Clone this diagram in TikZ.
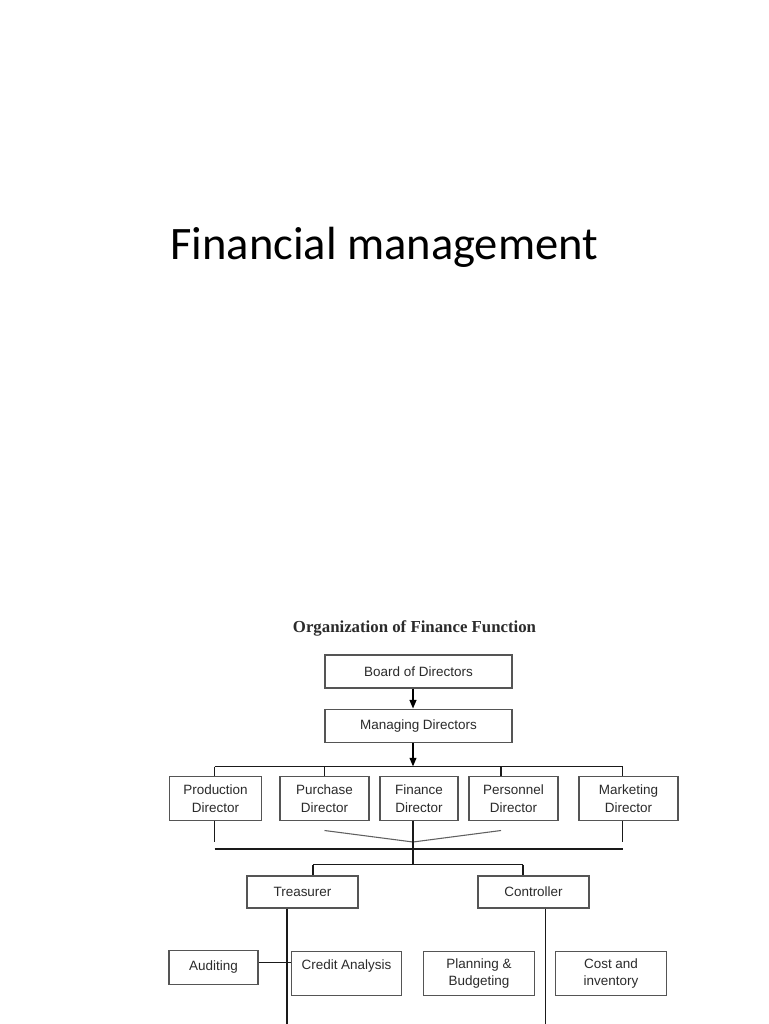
\documentclass[tikz,border=0pt]{standalone}
\usepackage{fontspec}
\setmainfont{Liberation Sans}
\newfontfamily\slidefont{Carlito}
\newfontfamily\headfont{Liberation Serif}
\usepackage{tikz}
\usetikzlibrary{positioning,arrows.meta}

\definecolor{boxline}{HTML}{555555}
\definecolor{boxtext}{HTML}{2B2B2B}
\definecolor{wire}{HTML}{1A1A1A}
\definecolor{vline}{HTML}{606060}

\tikzset{
    unit/.style 2 args={minimum width=#1*0.75pt, minimum height=#2*0.75pt},
    post/.style={draw=boxline, line width=0.9pt, text=boxtext, inner sep=0pt,
        align=center, font=\fontsize{10.1}{13.4}\selectfont},
    wire/.style={draw=wire, line width=0.8pt},
    feed/.style={draw=black, line width=1.4pt, -{Triangle[length=6.5pt,width=5pt]}},
}

\begin{document}
\begin{tikzpicture}[x=0.75pt,y=-0.75pt]
    \useasboundingbox[fill=white] (0,0) rectangle (768,1024);

    \node[anchor=base west, inner sep=0pt, font=\slidefont\fontsize{34.9}{40}\selectfont] (title) at (170,259) {Financial management};
    \node[anchor=base, inner sep=0pt, text=boxtext, font=\headfont\bfseries\fontsize{12.6}{15}\selectfont] (orgtitle) at (414.5,632.3) {Organization of Finance Function};

    \node[post, unit={187}{33}] (board) at (418.5,671.5) {Board of Directors};
    \node[post, unit={187}{33.5}] (md) at (418.5,726) {Managing Directors};

    \node[post, unit={92}{43.5}] (prod) at (215.5,798.5) {Production\\Director};
    \node[post, unit={89}{43.5}] (pur) at (324.5,798.5) {Purchase\\Director};
    \node[post, unit={78}{43.5}] (fin) at (419,798.5) {Finance\\Director};
    \node[post, unit={89}{43.5}] (per) at (513.5,798.5) {Personnel\\Director};
    \node[post, unit={99}{43.5}] (mkt) at (628.5,798.5) {Marketing\\Director};

    \node[post, unit={111}{32}] (tre) at (302.5,892) {Treasurer};
    \node[post, unit={111}{32}] (con) at (533.5,892) {Controller};

    \node[post, unit={89}{33.5}] (aud) at (213.5,967.5) {Auditing};
    \node[post, unit={110}{44.5}] (cred) at (346.5,973.5) {Credit Analysis\\\mbox{}};
    \node[post, unit={111}{44.5}] (plan) at (479,973.5) {Planning \&\\Budgeting};
    \node[post, unit={110.5}{44.5}] (cost) at (611,973.5) {Cost and\\inventory};

    % top of the chart
    \coordinate (bus) at (413,766.5);
    \coordinate (busl) at (214.5,766.5);
    \coordinate (busr) at (622.5,766.5);
    \coordinate (pertap) at (501,766.5);
    \draw[feed] (board.south -| bus) -- (md.north -| bus);
    \draw[feed] (md.south -| bus) -- (bus);
    \draw[wire] (busl) -- (busr);
    \draw[wire] (busl) -- (busl |- prod.north);
    \draw[wire] (pur.north |- bus) -- (pur.north);
    \draw[wire] (pertap) -- (pertap |- per.north);
    \draw[wire] (busr) -- (busr |- mkt.north);

    % directors merge into finance
    \coordinate (fork) at (413,849);
    \coordinate (vtip) at (413,842);
    \coordinate (bar) at (413,864.5);
    \draw[wire] (busl |- fork) -- (busr |- fork);
    \draw[wire] (busl |- prod.south) -- (214.5,841.5);
    \draw[wire] (busr |- mkt.south) -- (622.5,841.5);
    \draw[draw=vline, line width=0.8pt] (324.5,830.5) -- (vtip) -- (501,830.5);
    \draw[wire] (bus |- fin.south) -- (bar);

    % treasurer and controller
    \coordinate (barl) at (313,864.5);
    \coordinate (barr) at (523,864.5);
    \draw[wire] (barl) -- (barr);
    \draw[wire] (barl) -- (barl |- tre.north);
    \draw[wire] (barr) -- (barr |- con.north);
    \coordinate (trebase) at (287,1024);
    \coordinate (conbase) at (545.5,1024);
    \draw[wire] (trebase |- tre.south) -- (trebase);
    \draw[wire] (conbase |- con.south) -- (conbase);
    \draw[wire] ([yshift=3.6pt]aud.east) -- ([yshift=3.6pt]aud.east -| cred.west);
\end{tikzpicture}
\end{document}
